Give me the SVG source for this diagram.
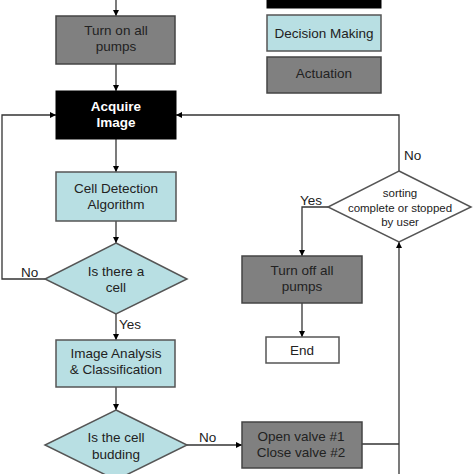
<svg xmlns="http://www.w3.org/2000/svg" width="474" height="474" viewBox="0 0 474 474">
<defs>
<marker id="ah" viewBox="0 0 10 10" refX="10" refY="5" markerWidth="6" markerHeight="6" orient="auto" markerUnits="userSpaceOnUse"><path d="M0,0 L10,5 L0,10 z" fill="#000"/></marker>
<style>
.act{fill:#808080;stroke:#444;stroke-width:1.5}
.dec{fill:#b8dfe3;stroke:#555;stroke-width:1.5}
.blk{fill:#000;stroke:#000}
.wht{fill:#fff;stroke:#555;stroke-width:1.5}
text{font-family:"Liberation Sans",Arial,sans-serif;font-size:13.5px;fill:#222;text-anchor:middle}
.sm{font-size:11.5px}
.w{fill:#fff;font-weight:bold}
.lbl{text-anchor:start}
.c{fill:none;stroke:#333;stroke-width:1.3}
</style>
</defs>
<g id="connectors">
<path class="c" d="M116,0 V16" marker-end="url(#ah)"/>
<path class="c" d="M116,64 V91" marker-end="url(#ah)"/>
<path class="c" d="M116,139 V172" marker-end="url(#ah)"/>
<path class="c" d="M116,221 V243" marker-end="url(#ah)"/>
<path class="c" d="M45,279 H2 V115 H56" marker-end="url(#ah)"/>
<path class="c" d="M116,314 V340" marker-end="url(#ah)"/>
<path class="c" d="M116,387 V410" marker-end="url(#ah)"/>
<path class="c" d="M187,445 H242" marker-end="url(#ah)"/>
<path class="c" d="M362,444 H399"/>
<path class="c" d="M399,474 V242" marker-end="url(#ah)"/>
<path class="c" d="M399,171 V115 H176" marker-end="url(#ah)"/>
<path class="c" d="M328,207 H302 V256" marker-end="url(#ah)"/>
<path class="c" d="M302,303 V337" marker-end="url(#ah)"/>
<text class="lbl" x="404" y="160">No</text>
<text class="lbl" x="300" y="205">Yes</text>
<text class="lbl" x="21" y="277">No</text>
<text class="lbl" x="119" y="329">Yes</text>
<text class="lbl" x="199" y="442">No</text>
</g>
<g id="legend-acq"><rect class="blk" x="267" y="-30" width="114" height="38"/></g>
<g id="legend-dec"><rect class="dec" x="267" y="15" width="114" height="36"/><text x="324" y="38">Decision Making</text></g>
<g id="legend-act"><rect class="act" x="267" y="57" width="114" height="36"/><text x="324" y="78">Actuation</text></g>
<g id="turn-on"><rect class="act" x="56" y="16" width="119" height="48"/><text x="116" y="35">Turn on all</text><text x="116" y="51">pumps</text></g>
<g id="acquire"><rect class="blk" x="56" y="91" width="120" height="48"/><text class="w" x="116" y="111">Acquire</text><text class="w" x="116" y="127">Image</text></g>
<g id="cell-detect"><rect class="dec" x="56" y="172" width="120" height="49"/><text x="116" y="193">Cell Detection</text><text x="116" y="209">Algorithm</text></g>
<g id="is-cell"><polygon class="dec" points="116,243 187,279 116,314 45,279"/><text x="116" y="276">Is there a</text><text x="116" y="292">cell</text></g>
<g id="analysis"><rect class="dec" x="56" y="340" width="119" height="47"/><text x="116" y="358">Image Analysis</text><text x="116" y="374">&amp; Classification</text></g>
<g id="budding"><polygon class="dec" points="116,410 187,445 116,480 45,445"/><text x="116" y="442">Is the cell</text><text x="116" y="459">budding</text></g>
<g id="valves"><rect class="act" x="242" y="422" width="120" height="46"/><text x="301" y="441">Open valve #1</text><text x="301" y="457">Close valve #2</text></g>
<g id="sorting"><polygon class="wht" points="399,171 471,207 399,242 328,207"/><text class="sm" x="400" y="197">sorting</text><text class="sm" x="400" y="212">complete or stopped</text><text class="sm" x="400" y="226">by user</text></g>
<g id="turn-off"><rect class="act" x="242" y="256" width="120" height="47"/><text x="302" y="275">Turn off all</text><text x="302" y="291">pumps</text></g>
<g id="end"><rect class="wht" x="266" y="337" width="73" height="26"/><text x="302" y="355">End</text></g>
</svg>
